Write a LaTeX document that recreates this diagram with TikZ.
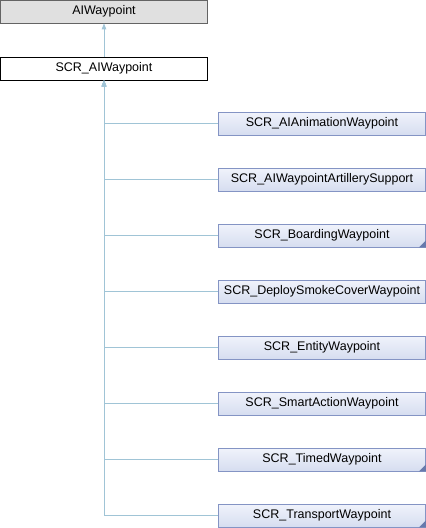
\documentclass[tikz,border=0pt]{standalone}
\usepackage{fontspec}
\setmainfont{Liberation Sans}
\usetikzlibrary{arrows.meta}
\definecolor{edgec}{RGB}{160,196,214}
\definecolor{boxborder}{RGB}{132,148,196}
\definecolor{boxtop}{RGB}{240,243,251}
\definecolor{boxbot}{RGB}{214,221,240}
\definecolor{tricol}{RGB}{104,122,172}
\definecolor{graybox}{RGB}{224,224,224}
\definecolor{grayborder}{RGB}{100,100,100}
\begin{document}
\begin{tikzpicture}[x=1pt,y=-1pt,font=\fontsize{12.5}{14}\selectfont]
\useasboundingbox (0,0) rectangle (426,528);
\tikzset{
  cls/.style={draw=boxborder, line width=0.8pt, top color=boxtop, bottom color=boxbot,
    minimum width=207pt, minimum height=23pt, inner sep=0pt},
  basegray/.style={draw=grayborder, line width=0.8pt, fill=graybox,
    minimum width=207pt, minimum height=23pt, inner sep=0pt},
  basewhite/.style={draw=black, line width=0.8pt, fill=white,
    minimum width=207pt, minimum height=23pt, inner sep=0pt},
  edge/.style={draw=edgec, line width=0.9pt, -{Triangle[width=4.5pt,length=6pt,fill=edgec]}},
  corner/.style={fill=tricol},
}
\node[basegray] (aiw) at (104,11.5) {AIWaypoint};
\node[basewhite] (scr) at (104,68.5) {SCR\_AIWaypoint};

\node[cls] (c1) at (322,123.5) {SCR\_AIAnimationWaypoint};
\node[cls] (c2) at (322,179.5) {SCR\_AIWaypointArtillerySupport};
\node[cls] (c3) at (322,235.5) {SCR\_BoardingWaypoint};
\node[cls] (c4) at (322,291.5) {SCR\_DeploySmokeCoverWaypoint};
\node[cls] (c5) at (322,347.5) {SCR\_EntityWaypoint};
\node[cls] (c6) at (322,403.5) {SCR\_SmartActionWaypoint};
\node[cls] (c7) at (322,459.5) {SCR\_TimedWaypoint};
\node[cls] (c8) at (322,515.5) {SCR\_TransportWaypoint};

\foreach \c in {c3,c7,c8}{
  \fill[corner] (\c.south east) -- ++(0,-7) -- ++(-7,7) -- cycle;
}

\draw[edge] (scr.north) -- (aiw.south);
\foreach \c in {c1,c2,c3,c4,c5,c6,c7,c8}{
  \draw[edge] (\c.west) -| (scr.south);
}
\end{tikzpicture}
\end{document}
